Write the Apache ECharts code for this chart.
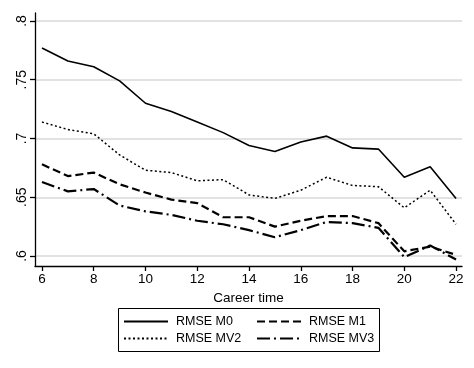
<!DOCTYPE html>
<html><head><meta charset="utf-8">
<script src="https://cdn.jsdelivr.net/npm/echarts@6/dist/echarts.min.js"></script>
<style>html,body{margin:0;padding:0;background:#fff}#c{width:474px;height:368px}</style>
</head><body><div id="c"></div>
<script>
const careerTime = [6,7,8,9,10,11,12,13,14,15,16,17,18,19,20,21,22];
const rmseM0  = [0.777,0.766,0.761,0.749,0.730,0.723,0.714,0.705,0.694,0.689,0.697,0.702,0.692,0.691,0.667,0.676,0.649];
const rmseM1  = [0.678,0.668,0.671,0.661,0.654,0.648,0.645,0.633,0.633,0.625,0.630,0.634,0.634,0.628,0.604,0.608,0.601];
const rmseMV2 = [0.714,0.7076,0.704,0.686,0.673,0.671,0.664,0.665,0.652,0.649,0.656,0.667,0.660,0.659,0.641,0.656,0.627];
const rmseMV3 = [0.663,0.655,0.657,0.643,0.638,0.635,0.630,0.627,0.622,0.616,0.622,0.629,0.628,0.624,0.599,0.609,0.597];
const xTicks = [6,8,10,12,14,16,18,20,22];
const yTicks = [0.6,0.65,0.7,0.75,0.8];
const yTickLabels = ['.6','.65','.7','.75','.8'];
const seriesNames = ['RMSE M0','RMSE M1','RMSE MV2','RMSE MV3'];

const font = 'Liberation Sans, Arial, sans-serif';
const pairs = a => careerTime.map((x,i)=>[x,a[i]]);
const mk = (name, data, type, width) => ({
  name, type:'line', data:pairs(data), symbol:'none', smooth:false,
  lineStyle:{color:'#000', width, type}, itemStyle:{color:'#000'},
  emphasis:{disabled:true}, animation:false
});
const legendCommon = {orient:'vertical', top:315, padding:0, itemWidth:44, itemHeight:10, itemGap:4,
  itemStyle:{opacity:0}, textStyle:{fontFamily:font, fontSize:12.5, color:'#000', padding:[0,0,0,3]}, selectedMode:false};
const chart = echarts.init(document.getElementById('c'));
chart.setOption({
  backgroundColor:'#fff',
  animation:false,
  grid:{left:35, right:12, top:13, bottom:102},
  xAxis:{type:'value', min:5.73, max:22.23,
    name:'Career time', nameLocation:'middle', nameGap:20,
    nameTextStyle:{fontFamily:font, fontSize:13.5, color:'#000'},
    axisLine:{lineStyle:{color:'#000', width:1.3}},
    axisTick:{customValues:xTicks, length:5, lineStyle:{color:'#000', width:1.3}},
    axisLabel:{customValues:xTicks, fontFamily:font, fontSize:13.5, color:'#000', margin:6},
    splitLine:{show:false}},
  yAxis:{type:'value', min:0.5915, max:0.8068,
    axisLine:{show:true, lineStyle:{color:'#000', width:1.3}},
    axisTick:{show:true, customValues:yTicks, length:5, lineStyle:{color:'#000', width:1.3}},
    axisLabel:{customValues:yTicks, rotate:90, fontFamily:font, fontSize:14, color:'#000', margin:6,
      formatter:v=>{const i=yTicks.findIndex(t=>Math.abs(t-v)<1e-6);return i>=0?yTickLabels[i]:'';}},
    splitLine:{show:true, lineStyle:{color:'#d9d9d9', width:1.5}}},
  legend:[
    Object.assign({data:[seriesNames[0],seriesNames[2]], left:123}, legendCommon),
    Object.assign({data:[seriesNames[1],seriesNames[3]], left:256}, legendCommon)
  ],
  graphic:[{type:'rect', shape:{x:118.5, y:308.5, width:261, height:43}, style:{fill:'none', stroke:'#000', lineWidth:1}}],
  series:[
    mk(seriesNames[0], rmseM0, 'solid', 1.6),
    mk(seriesNames[1], rmseM1, [8,4], 2.2),
    mk(seriesNames[2], rmseMV2, [2,2.5], 1.5),
    mk(seriesNames[3], rmseMV3, [13,4,2,4], 2.2)
  ]
});
</script></body></html>
